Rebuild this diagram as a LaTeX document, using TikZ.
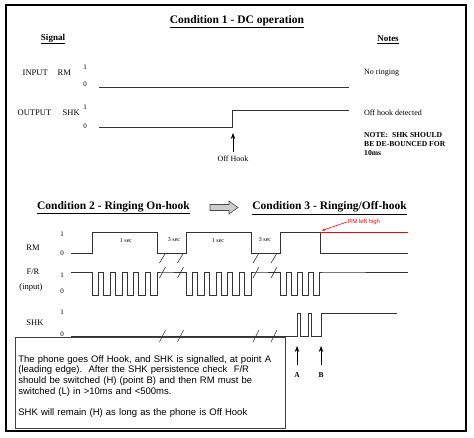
\documentclass[tikz,border=0pt]{standalone}
\usepackage{fontspec}
\setmainfont{Liberation Serif}
\setsansfont{Liberation Sans}
\usetikzlibrary{arrows.meta}
\newcommand{\myfs}[2]{\fontsize{#1}{#2}\selectfont}
\begin{document}
\begin{tikzpicture}[x=1pt,y=-1pt,
  wave/.style={line width=0.8pt, black!80, line join=miter},
  brk/.style={line width=0.6pt, black!80},
  ttl/.style={font=\myfs{11.5}{13}\bfseries, inner sep=1pt},
  hdr/.style={font=\myfs{9}{10}\bfseries, inner sep=1pt},
  lbl/.style={font=\myfs{8.5}{10}, inner sep=0.5pt},
  dig/.style={font=\myfs{7}{8}, inner sep=0.5pt},
  notetxt/.style={font=\myfs{8}{9}, anchor=west, inner sep=0pt},
  sec/.style={font=\myfs{6}{7}, inner sep=0.5pt},
  arr/.style={line width=0.8pt, -{Stealth[length=6pt,width=4.5pt]}},
]
\useasboundingbox (0,0) rectangle (474,437);
\fill[white] (0,0) rectangle (474,437);
\draw[line width=2pt] (6,5) rectangle (466,431);

% ---------- Condition 1 ----------
\node[ttl] (t1) at (237,22) {\underline{Condition 1 - DC operation}};
\node[hdr] (sig) at (53,39) {\underline{Signal}};
\node[hdr] (notes) at (388,40) {\underline{Notes}};

\node[lbl, anchor=west] (in1) at (22,73) {INPUT};
\node[lbl, anchor=west] (in2) at (57,73) {RM};
\node[lbl, anchor=west] (out1) at (17,113) {OUTPUT};
\node[lbl, anchor=west] (out2) at (62,113) {SHK};
\node[dig] (d1a) at (85,67) {1};
\node[dig] (d1b) at (85,84) {0};
\node[dig] (d1c) at (85,107) {1};
\node[dig] (d1d) at (85,126) {0};

\draw[wave] (99,87) -- (349,87);
\draw[wave] (99,127) -- (232,127) -- (232,110) -- (349,110);

\node[notetxt] (n1) at (364,73) {No ringing};
\node[notetxt] (n2) at (364,113) {Off hook detected};
\node[anchor=north west, align=left, font=\myfs{7.6}{9.3}\bfseries, inner sep=0pt] (n3) at (364,132)
  {NOTE:\ \ SHK SHOULD\\BE DE-BOUNCED FOR\\10ms};

\node[lbl, font=\myfs{8}{9}] (offhook) at (233,159) {Off Hook};
\coordinate (offtip) at (233,133);
\draw[arr, shorten <=3pt] (offhook) -- (offtip);

% ---------- Condition 2 / 3 titles ----------
\node[ttl] (t2) at (113.5,208) {\underline{Condition 2 - Ringing On-hook}};
\node[ttl] (t3) at (329.5,208) {\underline{Condition 3 - Ringing/Off-hook}};
\draw[fill=gray!40, draw=gray!60!black, line width=0.6pt]
  (210,204.5) -- (229,204.5) -- (229,201) -- (238,207.5) -- (229,214) -- (229,210.5) -- (210,210.5) -- cycle;

% ---------- signal labels ----------
\node[lbl] (rml) at (33,248) {RM};
\node[dig] (d2a) at (62,234) {1};
\node[dig] (d2b) at (62,253) {0};
\node[lbl] (frl) at (33,272) {F/R};
\node[lbl] (fri) at (31,287) {(input)};
\node[dig] (d2c) at (62,275) {1};
\node[dig] (d2d) at (62,291) {0};
\node[lbl] (shkl) at (35,323) {SHK};
\node[dig] (d2e) at (62,312) {1};
\node[dig] (d2f) at (62,334) {0};

% ---------- RM waveform ----------
\draw[wave] (71,253) -- (92,253) -- (92,232) -- (157,232) -- (157,253) -- (186,253) -- (186,232)
  -- (251,232) -- (251,253) -- (280,253) -- (280,232) -- (320,232) -- (320,253) -- (408,253);
\node[sec] (s1) at (126,241) {1 sec};
\node[sec] (s2) at (174,240) {3 sec};
\node[sec] (s3) at (218,241) {1 sec};
\node[sec] (s4) at (265,240) {3 sec};

% red: RM left high
\draw[red, line width=0.8pt] (320,232) -- (408,232);
\node[font=\sffamily\myfs{6}{7}, text=red, inner sep=1pt] (rmhigh) at (364,222) {RM left high};
\coordinate (redtip) at (322,230.5);
\draw[red, line width=0.6pt, -{Stealth[length=3pt,width=2.5pt]}] (rmhigh.west) -- (redtip);

% ---------- F/R waveform ----------
\draw[wave] (71,272) -- (92,272)
  \foreach \i in {1,...,6} { -- ++(0,23) -- ++(6.5,0) -- ++(0,-23) -- ++(5.2,0) }
  -- (186,272)
  \foreach \i in {1,...,6} { -- ++(0,23) -- ++(6.5,0) -- ++(0,-23) -- ++(5.2,0) }
  -- (280,272)
  \foreach \i in {1,...,4} { -- ++(0,23) -- ++(6.5,0) -- ++(0,-23) -- ++(4.6,0) }
  -- (408,272);

% ---------- SHK waveform ----------
\draw[wave] (71,336) -- (297,336) -- (297,313) -- (300.5,313) -- (300.5,336) -- (308,336)
  -- (308,313) -- (311.5,313) -- (311.5,336) -- (321,336) -- (321,313) -- (397,313);

% ---------- break marks ----------
\foreach \x in {162.5,180.5,256,274} {
  \draw[brk] (\x-3,263) -- (\x+3,253);
  \draw[brk] (\x-3,278) -- (\x+3,267);
  \draw[brk] (\x-3,342) -- (\x+3,330);
}

% ---------- A / B arrows ----------
\node[lbl, font=\myfs{7.5}{8}\bfseries] (la) at (297,375) {A};
\node[lbl, font=\myfs{7.5}{8}\bfseries] (lb) at (321,375) {B};
\coordinate (atip) at (297,346);
\coordinate (btip) at (321,346);
\draw[arr, shorten <=7pt] (la) -- (atip);
\draw[arr, shorten <=7pt] (lb) -- (btip);

% ---------- text box ----------
\node[draw=black!75, line width=0.7pt, text=black, anchor=north west, minimum width=270pt,
  minimum height=91pt, text width=264pt, inner xsep=3pt, inner ysep=0pt, align=left,
  font=\sffamily\myfs{9.5}{10.6}] (box) at (15,337)
  {\rule{0pt}{14pt}The phone goes Off Hook, and SHK is signalled, at point A\\
   (leading edge).\ \ After the SHK persistence check\ \ F/R\\
   should be switched (H) (point B) and then RM must be\\
   switched (L) in >10ms and <500ms.\\[10.6pt]
   SHK will remain (H) as long as the phone is Off Hook};
\end{tikzpicture}
\end{document}
